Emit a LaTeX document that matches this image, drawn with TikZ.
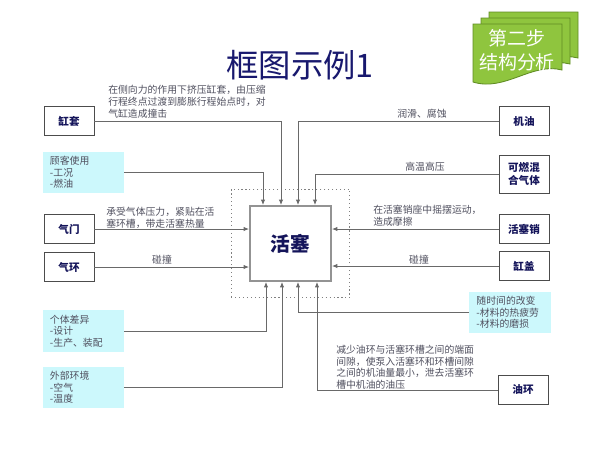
\documentclass[tikz,border=0pt]{standalone}
\usepackage{fontspec}
\setmainfont{Noto Sans CJK SC}
\usepackage{tikz}
\usetikzlibrary{arrows.meta,positioning,fit,calc}
\definecolor{TitleNavy}{RGB}{24,24,110}
\definecolor{PartNavy}{RGB}{20,20,90}
\definecolor{NoteGray}{RGB}{80,80,95}
\definecolor{LineGray}{RGB}{105,105,105}
\definecolor{FactorCyan}{RGB}{204,248,252}
\definecolor{BadgeGreen}{RGB}{143,197,62}
\definecolor{BadgeEdge}{RGB}{95,140,35}
\tikzset{
    partbox/.style={draw=black!70, line width=0.7pt, fill=white, minimum width=1.25cm, minimum height=0.725cm, align=center, font=\fontsize{7.5}{9}\selectfont\bfseries, text=PartNavy},
    factorbox/.style={fill=FactorCyan, text width=1.675cm, inner xsep=0.175cm, inner ysep=0.1cm, minimum height=1.03cm, align=left, font=\fontsize{7}{8.3}\selectfont, text=NoteGray},
    mainbox/.style={draw=gray!85, line width=1.2pt, fill=white, minimum width=2.025cm, minimum height=1.875cm, font=\fontsize{14}{16}\selectfont\bfseries, text=PartNavy},
    note/.style={inner sep=0pt, align=left, font=\fontsize{7}{8.3}\selectfont, text=NoteGray},
    conn/.style={-{Latex[length=1.4mm,width=1.1mm]}, line width=0.7pt, draw=LineGray},
}
\begin{document}
\begin{tikzpicture}[x=0.025cm,y=-0.025cm]
\path[use as bounding box, fill=white] (0,0) rectangle (600,450);

\node[font=\fontsize{23}{26}\selectfont, text=TitleNavy] (title) at (300,65) {框图示例1};
\foreach \i in {2,1,0}{
  \draw[fill=BadgeGreen, draw=BadgeEdge, line width=0.6pt, shift={(8*\i,-6*\i)}]
    (473,24) -- (562,24) -- (562,70) .. controls (532,62) and (505,92) .. (473,82) -- cycle;
}
\node[font=\fontsize{13.5}{17}\selectfont, text=white, align=center] (badge) at (517,50) {第二步\\结构分析};

\node[mainbox] (huosai) at (290.5,243.5) {活塞};
\node[draw=gray, dotted, line width=0.8pt, fit=(huosai), inner xsep=0.45cm, inner ysep=0.4cm] (huosaiarea) {};

\node[partbox] (gangtao) at (69,121) {缸套};
\node[factorbox] (guke) at (83.5,172.5) {顾客使用\\-工况\\-燃油};
\node[partbox] (qimen) at (69,229) {气门};
\node[partbox] (qihuan) at (69,267) {气环};
\node[factorbox] (geti) at (83.5,331) {个体差异\\-设计\\-生产、装配};
\node[factorbox] (waibu) at (83.5,387.5) {外部环境\\-空气\\-温度};

\node[partbox] (jiyou) at (524,121) {机油};
\node[partbox, minimum height=0.95cm] (kerang) at (524,174) {可燃混\\合气体};
\node[partbox] (huosaixiao) at (524,229) {活塞销};
\node[partbox] (ganggai) at (524,266) {缸盖};
\node[factorbox] (suishi) at (510,312.5) {随时间的改变\\-材料的热疲劳\\-材料的磨损};
\node[partbox] (youhuan) at (523,390) {油环};

\node[note, anchor=north west] (gangtaonote) at (108,85) {在侧向力的作用下挤压缸套，由压缩\\行程终点过渡到膨胀行程始点时，对\\气缸造成撞击};
\node[note] (jiyounote) at (422,114) {润滑、腐蚀};
\node[note] (kerangnote) at (425,167) {高温高压};
\node[note, anchor=north west] (qimennote) at (106,207) {承受气体压力，紧贴在活\\塞环槽，带走活塞热量};
\node[note] (qihuannote) at (162,260) {碰撞};
\node[note, anchor=north west] (xiaonote) at (373,205) {在活塞销座中摇摆运动，\\造成摩擦};
\node[note] (ganggainote) at (419,260) {碰撞};
\node[note, anchor=north west] (youhuannote) at (336,345) {减少油环与活塞环槽之间的端面\\间隙，使泵入活塞环和环槽间隙\\之间的机油量最小，泄去活塞环\\槽中机油的油压};

\draw[conn] (guke.east) -| ($(huosai.north)+(-27.5,0)$);
\draw[conn] (gangtao.east) -| ($(huosai.north)+(-9.5,0)$);
\draw[conn] (jiyou.west) -| ($(huosai.north)+(7.5,0)$);
\draw[conn] (kerang.west) -| ($(huosai.north)+(24.5,0)$);
\draw[conn] (qimen.east) -- (qimen.east -| huosai.west);
\draw[conn] (qihuan.east) -- (qihuan.east -| huosai.west);
\draw[conn] (huosaixiao.west) -- (huosaixiao.west -| huosai.east);
\draw[conn] (ganggai.west) -- (ganggai.west -| huosai.east);
\draw[conn] (geti.east) -| ($(huosai.south)+(-24.5,0)$);
\draw[conn] (waibu.east) -| ($(huosai.south)+(-8.5,0)$);
\draw[conn] (suishi.west) -| ($(huosai.south)+(7.5,0)$);
\draw[conn] (youhuan.west) -| ($(huosai.south)+(26.5,0)$);
\end{tikzpicture}
\end{document}
